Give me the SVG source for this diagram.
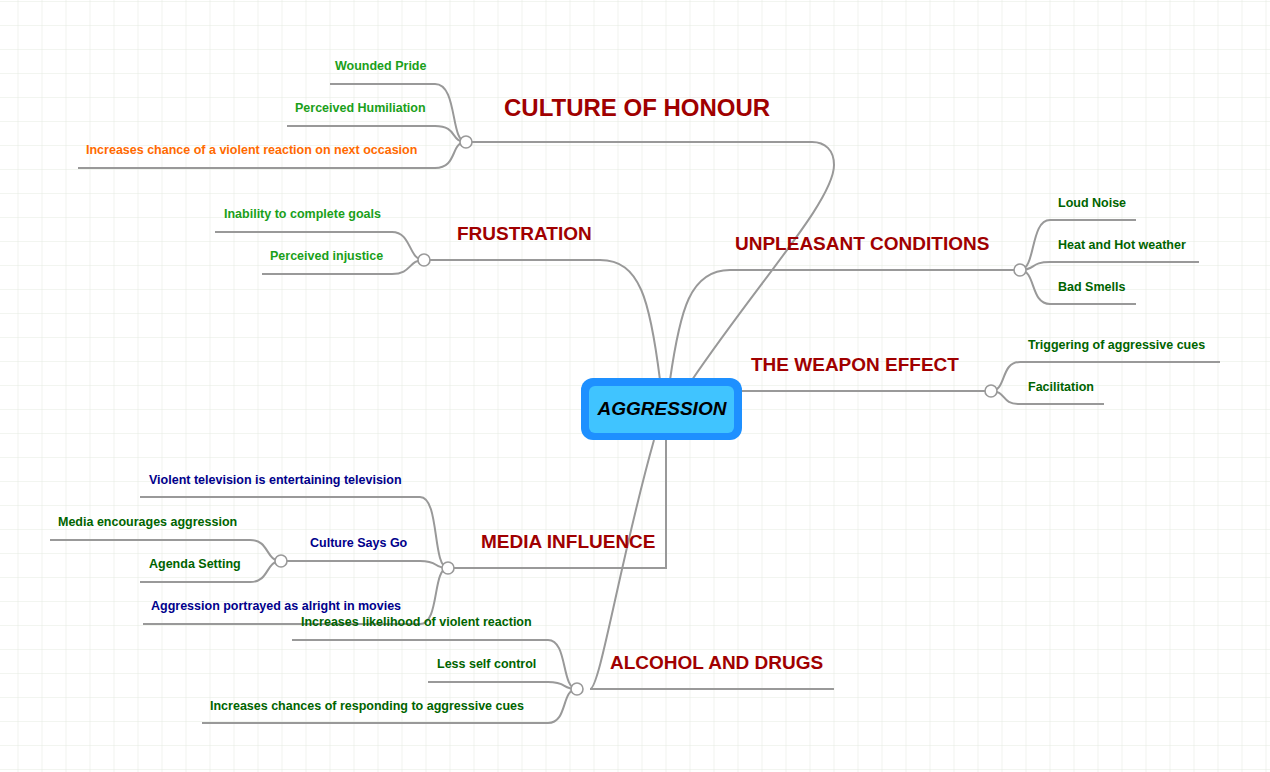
<svg xmlns="http://www.w3.org/2000/svg" width="1270" height="772" viewBox="0 0 1270 772">
<defs>
<pattern id="grid" x="17.5" y="1" width="24" height="24" patternUnits="userSpaceOnUse">
<path d="M0 0H24M0 0V24" fill="none" stroke="#e6ebe2" stroke-width="1.2"/>
</pattern>
<style>
.c{fill:none;stroke:#999;stroke-width:2}
.hub{fill:#fff;stroke:#999;stroke-width:1.6}
.t{font-family:"Liberation Sans",Arial,sans-serif;font-weight:bold;font-size:12.5px}
.L{font-family:"Liberation Sans",Arial,sans-serif;font-weight:bold;font-size:19px;fill:#a00000}
.g{fill:#1aa01a}.d{fill:#006400}.b{fill:#00008b}.o{fill:#ff6a00}
</style>
</defs>
<rect width="1270" height="772" fill="#fff"/>
<rect width="1270" height="772" fill="url(#grid)"/>
<g id="connectors">
<path class="c" d="M692,380 C760,280 834,200 834,165 C834,150 825,142 812,142 L466,142"/>
<path class="c" d="M660,380 C650,300 640,260 600,260 L424,260"/>
<path class="c" d="M670,380 C680,310 690,270 730,270 L1020,270"/>
<path class="c" d="M741,391 L991,391"/>
<path class="c" d="M666,440 L666,568 L448,568"/>
<path class="c" d="M654,440 C620,560 600,689 590,689 L834,689"/>
<path class="c" d="M466,142 C450,142 458,84 435,84 L330,84"/>
<path class="c" d="M466,142 C450,142 458,126 435,126 L287,126"/>
<path class="c" d="M466,142 C450,142 458,168 435,168 L78,168"/>
<path class="c" d="M424,260 C408,260 412,232 392,232 L215,232"/>
<path class="c" d="M424,260 C408,260 412,274 392,274 L262,274"/>
<path class="c" d="M1020,270 C1036,270 1030,220 1050,220 L1136,220"/>
<path class="c" d="M1020,270 C1036,270 1030,262 1050,262 L1199,262"/>
<path class="c" d="M1020,270 C1036,270 1030,304 1050,304 L1136,304"/>
<path class="c" d="M991,391 C1007,391 1000,362 1020,362 L1220,362"/>
<path class="c" d="M991,391 C1007,391 1000,404 1020,404 L1104,404"/>
<path class="c" d="M448,568 C432,568 440,497 420,497 L140,497"/>
<path class="c" d="M448,568 C432,568 440,561 420,561 L281,561"/>
<path class="c" d="M448,568 C432,568 440,624 420,624 L143,624"/>
<path class="c" d="M281,561 C265,561 270,540 250,540 L50,540"/>
<path class="c" d="M281,561 C265,561 270,582 250,582 L140,582"/>
<path class="c" d="M577,689 C561,689 568,640 548,640 L292,640"/>
<path class="c" d="M577,689 C561,689 568,682 548,682 L428,682"/>
<path class="c" d="M577,689 C561,689 568,723 548,723 L202,723"/>
</g>
<g id="hubs">
<circle class="hub" cx="466" cy="142" r="6"/>
<circle class="hub" cx="424" cy="260" r="6"/>
<circle class="hub" cx="1020" cy="270" r="6"/>
<circle class="hub" cx="991" cy="391" r="6"/>
<circle class="hub" cx="448" cy="568" r="6"/>
<circle class="hub" cx="281" cy="561" r="6"/>
<circle class="hub" cx="577" cy="689" r="6"/>
</g>
<g id="aggression">
<rect x="581" y="378" width="161" height="62" rx="12" fill="#1e90ff"/>
<rect x="589" y="386" width="145" height="47" rx="6" fill="#40c4ff"/>
<text x="662" y="415" text-anchor="middle" font-family="Liberation Sans,Arial,sans-serif" font-weight="bold" font-style="italic" font-size="19" fill="#000">AGGRESSION</text>
</g>
<g id="culture"><text class="L" x="504" y="116" style="font-size:24px">CULTURE OF HONOUR</text></g>
<g id="frustration"><text class="L" x="457" y="240">FRUSTRATION</text></g>
<g id="unpleasant"><text class="L" x="735" y="250">UNPLEASANT CONDITIONS</text></g>
<g id="weapon"><text class="L" x="751" y="371">THE WEAPON EFFECT</text></g>
<g id="media"><text class="L" x="481" y="548">MEDIA INFLUENCE</text></g>
<g id="alcohol"><text class="L" x="610" y="669">ALCOHOL AND DRUGS</text></g>
<g id="leaves">
<text class="t g" x="335" y="70">Wounded Pride</text>
<text class="t g" x="295" y="112">Perceived Humiliation</text>
<text class="t o" x="86" y="154">Increases chance of a violent reaction on next occasion</text>
<text class="t g" x="224" y="218">Inability to complete goals</text>
<text class="t g" x="270" y="260">Perceived injustice</text>
<text class="t d" x="1058" y="207">Loud Noise</text>
<text class="t d" x="1058" y="249">Heat and Hot weather</text>
<text class="t d" x="1058" y="291">Bad Smells</text>
<text class="t d" x="1028" y="349">Triggering of aggressive cues</text>
<text class="t d" x="1028" y="391">Facilitation</text>
<text class="t b" x="149" y="484">Violent television is entertaining television</text>
<text class="t b" x="310" y="547">Culture Says Go</text>
<text class="t d" x="58" y="526">Media encourages aggression</text>
<text class="t d" x="149" y="568">Agenda Setting</text>
<text class="t b" x="151" y="610">Aggression portrayed as alright in movies</text>
<text class="t d" x="301" y="626">Increases likelihood of violent reaction</text>
<text class="t d" x="437" y="668">Less self control</text>
<text class="t d" x="210" y="710">Increases chances of  responding to aggressive cues</text>
</g>
</svg>
